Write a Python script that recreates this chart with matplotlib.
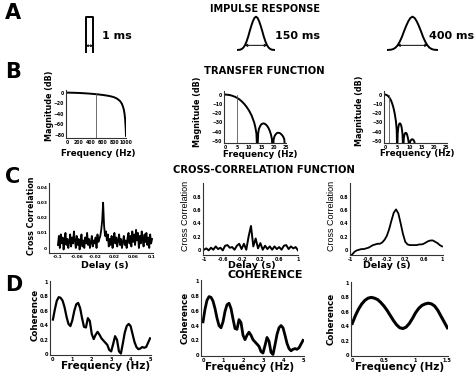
import matplotlib
matplotlib.use("Agg")
import matplotlib.pyplot as plt
import numpy as np

plt.rcParams['font.family'] = ['DejaVu Sans']
plt.rcParams['font.weight'] = 'bold'

W, H = 474, 372

# ---------------- data ----------------
# A: impulse response shapes
pulse_t = [-0.5, -0.5, 0.5, 0.5]
pulse_v = [-0.08, 1.0, 1.0, -0.08]
bell_t = [-1.2, -1.0, -0.9, -0.8, -0.7, -0.6, -0.5, -0.4, -0.3, -0.2, -0.1, 0.0,
          0.1, 0.2, 0.3, 0.4, 0.5, 0.6, 0.7, 0.8, 0.9, 1.0, 1.2]
bell_v = [0.0, 0.01, 0.03, 0.07, 0.14, 0.25, 0.39, 0.56, 0.72, 0.86, 0.96, 1.0,
          0.96, 0.86, 0.72, 0.56, 0.39, 0.25, 0.14, 0.07, 0.03, 0.01, 0.0]
widths = ["1 ms", "150 ms", "400 ms"]

# B: transfer functions (dB)
b1_f = [0, 100, 200, 300, 400, 500, 600, 700, 750, 800, 850, 900, 930, 950, 965,
        975, 985, 992, 997, 1000]
b1_m = [0, -0.2, -0.6, -1.2, -2.0, -3.0, -4.3, -6.0, -7.2, -8.8, -11.5, -16, -21,
        -27, -33, -40, -50, -62, -72, -82]
b2_f = [0, 1, 2, 3, 4, 5, 6, 7, 8, 9, 10, 11, 12, 12.5, 13, 13.3,
        13.4, 13.7, 14, 14.5, 15, 15.5, 16, 16.5, 17, 17.5, 18, 18.5, 19, 19.4, 19.6,
        19.8, 20.1, 20.5, 21, 21.5, 22, 22.5, 23, 23.5, 24, 24.5, 24.8]
b2_m = [0, -0.2, -0.6, -1.3, -2.3, -3.6, -5.3, -7.5, -10.2, -13.5, -17.5, -22.5, -29.5,
        -34.5, -42, -60,
        -60, -42, -37, -34, -32, -31.2, -31, -31.5, -32.5, -34, -36, -39, -43, -48, -60,
        -60, -48, -44.5, -42.5, -41.3, -41, -41.2, -42, -43.3, -45, -48, -60]
b3_f = [0, 0.5, 1, 1.5, 2, 2.5, 3, 3.5, 4, 4.5, 4.8, 5.0,
        5.05, 5.2, 5.4, 5.6, 5.8, 6.0, 6.2, 6.4, 6.6, 6.8, 7.0, 7.2, 7.4,
        7.55, 7.7, 7.9, 8.1, 8.3, 8.5, 8.7, 8.9, 9.1, 9.3, 9.5, 9.7, 9.9,
        10.05, 10.3, 10.6, 10.9, 11.2, 11.5, 11.8, 12.1, 12.4]
b3_m = [0, -0.3, -1, -2.2, -4, -6.5, -10, -14.5, -20.5, -29, -38, -60,
        -60, -42, -36.5, -33.5, -31.8, -31, -31, -31.7, -33, -35, -38.5, -43, -60,
        -60, -47, -44, -42.3, -41.3, -41, -41.2, -42, -43.5, -45.5, -48, -51, -60,
        -60, -50.5, -49, -48.2, -48, -48.3, -49.3, -51, -60]
cutoffs = [500, 5, 1.5]

# C: cross-correlation functions
c1_lag = np.linspace(-0.1, 0.1, 101)
c1_val = np.array([2, 8, 0, 9, 3, 7, -1, 5, 10, 2,
                   6, 0, 4, 9, 1, 7, 3, 11, 5, 0,
                   8, 2, 6, -1, 4, 9, 1, 5, 0, 7,
                   3, 10, 2, 6, 0, 4, 8, 1, 5, 3,
                   7, 0, 9, 4, 6, 8, 12, 18, 30, 15,
                   8, 11, 5, 9, 1, 6, 2, 8, 0, 4,
                   10, 3, 7, 1, 5, 9, 2, 6, 0, 4,
                   8, 2, 5, 0, 7, 10, 3, 8, 1, 11,
                   4, 9, 2, 12, 5, 10, 0, 8, 3, 11,
                   6, 1, 9, 4, 10, 2, 7, 0, 9, 3, 6]) / 1000.0
c2_lag = np.linspace(-1, 1, 41)
c2_val = [0.00, 0.02, -0.01, 0.03, 0.00, 0.05, 0.01, 0.03, -0.01, 0.06,
          0.07, 0.03, 0.04, 0.00, 0.06, 0.09, 0.01, 0.09, 0.00, 0.20,
          0.36, 0.05, 0.17, 0.02, 0.10, 0.00, 0.06, 0.01, 0.05, 0.00,
          0.05, 0.01, 0.04, 0.00, 0.06, 0.07, 0.01, 0.05, 0.02, 0.04, -0.01]
c3_lag = np.linspace(-1, 1, 41)
c3_val = [-0.10, -0.07, -0.03, -0.01, 0.00, 0.01, 0.01, 0.02, 0.03, 0.05,
          0.07, 0.08, 0.09, 0.09, 0.11, 0.15, 0.21, 0.31, 0.44, 0.56,
          0.61, 0.55, 0.40, 0.24, 0.12, 0.08, 0.07, 0.07, 0.07, 0.07,
          0.08, 0.08, 0.09, 0.11, 0.13, 0.14, 0.14, 0.12, 0.10, 0.07, 0.05]

# D: coherence
d1_f = np.linspace(0, 5, 51)
d1_c = [0.48, 0.62, 0.74, 0.79, 0.78, 0.74, 0.65, 0.52, 0.42, 0.39,
        0.47, 0.60, 0.69, 0.71, 0.64, 0.50, 0.38, 0.37, 0.50, 0.46,
        0.28, 0.21, 0.27, 0.31, 0.27, 0.22, 0.19, 0.16, 0.13, 0.06,
        0.04, 0.14, 0.25, 0.20, 0.04, 0.01, 0.15, 0.30, 0.39, 0.42,
        0.39, 0.28, 0.17, 0.10, 0.07, 0.08, 0.10, 0.09, 0.10, 0.16, 0.22]
d2_f = np.linspace(0, 5, 51)
d2_c = [0.45, 0.62, 0.74, 0.79, 0.78, 0.73, 0.63, 0.50, 0.40, 0.37,
        0.45, 0.59, 0.68, 0.70, 0.63, 0.49, 0.36, 0.35, 0.48, 0.44,
        0.27, 0.21, 0.27, 0.31, 0.27, 0.21, 0.18, 0.15, 0.12, 0.05,
        0.03, 0.13, 0.24, 0.19, 0.04, 0.01, 0.14, 0.28, 0.37, 0.40,
        0.37, 0.27, 0.16, 0.09, 0.06, 0.08, 0.09, 0.08, 0.10, 0.15, 0.20]
d3_f = np.linspace(0, 1.5, 31)
d3_c = [0.44, 0.55, 0.64, 0.71, 0.76, 0.79, 0.80, 0.79, 0.77, 0.73,
        0.68, 0.62, 0.55, 0.48, 0.42, 0.38, 0.37, 0.39, 0.44, 0.51,
        0.59, 0.65, 0.69, 0.71, 0.72, 0.71, 0.68, 0.62, 0.54, 0.46, 0.38]

# ---------------- figure ----------------
fig = plt.figure(figsize=(W / 100, H / 100), dpi=100)


def box(x0, y0, x1, y1):
    return fig.add_axes([x0 / W, 1 - y1 / H, (x1 - x0) / W, (y1 - y0) / H])


def ftext(x, y, s, **kw):
    fig.text(x / W, 1 - y / H, s, **kw)


def style(ax, size=4.0):
    for s in ['top', 'right']:
        ax.spines[s].set_visible(False)
    for s in ['left', 'bottom']:
        ax.spines[s].set_linewidth(0.8)
        ax.spines[s].set_color('#333333')
    ax.tick_params(length=0, pad=1.2, labelsize=size)
    for lab in ax.get_xticklabels() + ax.get_yticklabels():
        lab.set_fontweight('bold')


# panel letters
for letter, y in zip("ABCD", [13, 72, 177, 285]):
    ftext(5, y, letter, fontsize=15, fontweight='bold', ha='left', va='center')

# section titles
ftext(265, 9, "IMPULSE RESPONSE", fontsize=7, fontweight='bold', ha='center', va='center')
ftext(264, 71, "TRANSFER FUNCTION", fontsize=7.2, fontweight='bold', ha='center', va='center')
ftext(264, 170, "CROSS-CORRELATION FUNCTION", fontsize=7.2, fontweight='bold', ha='center', va='center')
ftext(265, 275, "COHERENCE", fontsize=8, fontweight='bold', ha='center', va='center')

# ---- A ----
axp = box(82, 15, 97, 53)
axp.plot(pulse_t, pulse_v, color='black', lw=1.4)
axp.annotate('', xy=(0.5, 0.12), xytext=(-0.5, 0.12),
             arrowprops=dict(arrowstyle='<->', lw=0.7, mutation_scale=3, shrinkA=0, shrinkB=0))
axp.set_xlim(-1, 1)
axp.set_ylim(-0.1, 1.05)
axp.axis('off')

for (x0, x1) in [(237, 275), (387, 438)]:
    axb = box(x0, 15, x1, 51)
    axb.plot(bell_t, bell_v, color='black', lw=1.4)
    axb.annotate('', xy=(0.72, 0.14), xytext=(-0.72, 0.14),
                 arrowprops=dict(arrowstyle='<->', lw=0.7, mutation_scale=4, shrinkA=0, shrinkB=0))
    axb.set_xlim(-1.2, 1.2)
    axb.set_ylim(-0.03, 1.05)
    axb.axis('off')

for (x, s) in zip([102, 275, 429], widths):
    ftext(x, 36, s, fontsize=8, fontweight='bold', ha='left', va='center')

# ---- B ----
b_specs = [
    ((66, 90, 126, 138), b1_f, b1_m, (-15, 1000), (-86, 5), [0, 200, 400, 600, 800, 1000],
     [0, -20, -40, -60, -80], (49, 106), (98, 153)),
    ((224, 91, 286, 143), b2_f, b2_m, (-0.4, 25.2), (-52, 3.8), [0, 5, 10, 15, 20, 25],
     [0, -10, -20, -30, -40, -50], (198, 112), (260, 154)),
    ((384, 91, 447, 143), b3_f, b3_m, (-0.4, 25.4), (-52, 3.8), [0, 5, 10, 15, 20, 25],
     [0, -10, -20, -30, -40, -50], (360, 111), (417, 153)),
]
for (bx, f, m, xl, yl, xt, yt, ylp, xlp), fc in zip(b_specs, cutoffs):
    ax = box(*bx)
    ax.plot(f, m, color='black', lw=1.4)
    ax.set_xlim(*xl)
    ax.set_ylim(*yl)
    ax.axvline(fc, ymin=0, ymax=(0 - yl[0]) / (yl[1] - yl[0]), color='#555555', lw=0.6)
    ax.set_xticks(xt)
    ax.set_yticks(yt)
    style(ax, 3.3)
    ftext(ylp[0], ylp[1], "Magnitude (dB)", fontsize=5.8, fontweight='bold', rotation=90,
          ha='center', va='center')
    ftext(xlp[0], xlp[1], "Frequency (Hz)", fontsize=6.3, fontweight='bold', ha='center', va='center')

# ---- C ----
ax = box(49, 183, 153, 253)
ax.plot(c1_lag, c1_val, color='black', lw=1.3)
ax.set_xlim(-0.119, 0.102)
ax.set_ylim(-0.0033, 0.043)
ax.set_xticks([-0.1, -0.06, -0.02, 0.02, 0.06, 0.1])
ax.set_xticklabels(["-0.1", "-0.06", "-0.02", "0.02", "0.06", "0.1"])
ax.set_yticks([0, 0.01, 0.02, 0.03, 0.04])
ax.set_yticklabels(["0", "0.01", "0.02", "0.03", "0.04"])
style(ax, 3.2)
ftext(32, 216, "Cross Correlation", fontsize=5.8, fontweight='bold', rotation=90, ha='center', va='center')
ftext(105, 265.5, "Delay (s)", fontsize=6.8, fontweight='bold', ha='center', va='center')

for (bx, lag, val, xl, ylp, xlp, lw) in [
        ((203, 183, 298, 255), c2_lag, c2_val, (-1.02, 1.0), (186, 216), (252, 265.5), 1.4),
        ((350, 183, 443, 255), c3_lag, c3_val, (-1.0, 1.02), (331, 216), (387, 265.5), 1.3)]:
    ax = box(*bx)
    ax.plot(lag, val, color='black', lw=lw)
    ax.set_xlim(*xl)
    ax.set_ylim(-0.08, 1.01)
    ax.set_xticks([-1, -0.6, -0.2, 0.2, 0.6, 1])
    ax.set_xticklabels(["-1", "-0.6", "-0.2", "0.2", "0.6", "1"])
    ax.set_yticks([0, 0.2, 0.4, 0.6, 0.8])
    ax.set_yticklabels(["0", "0.2", "0.4", "0.6", "0.8"])
    style(ax, 3.4)
    ftext(ylp[0], ylp[1], "Cross Correlation", fontsize=6.5, fontweight='normal',
          family='Liberation Sans', rotation=90, ha='center', va='center')
    ftext(xlp[0], xlp[1], "Delay (s)", fontsize=6.8, fontweight='bold', ha='center', va='center')

# ---- D ----
d_specs = [
    ((50, 280.5, 151, 355), d1_f, d1_c, (-0.15, 5.05), [0, 1, 2, 3, 4, 5],
     ["0", "1", "2", "3", "4", "5"], 1.6, (35, 315), (106, 366)),
    ((201, 279.5, 304, 356), d2_f, d2_c, (-0.1, 5.05), [0, 1, 2, 3, 4, 5],
     ["0", "1", "2", "3", "4", "5"], 2.0, (185.5, 318), (250, 367)),
    ((351, 281.5, 448, 356), d3_f, d3_c, (-0.02, 1.51), [0, 0.5, 1, 1.5],
     ["0", "0.5", "1", "1.5"], 2.2, (331, 319), (400, 367)),
]
for (bx, f, c, xl, xt, xtl, lw, ylp, xlp) in d_specs:
    ax = box(*bx)
    ax.plot(f, c, color='black', lw=lw)
    ax.set_xlim(*xl)
    ax.set_ylim(-0.01, 1.02)
    ax.set_xticks(xt)
    ax.set_xticklabels(xtl)
    ax.set_yticks([0, 0.2, 0.4, 0.6, 0.8, 1])
    ax.set_yticklabels(["0", "0.2", "0.4", "0.6", "0.8", "1"])
    style(ax, 3.6)
    ftext(ylp[0], ylp[1], "Coherence", fontsize=6.3, fontweight='bold', rotation=90,
          ha='center', va='center')
    ftext(xlp[0], xlp[1], "Frequency (Hz)", fontsize=7.5, fontweight='bold', ha='center', va='center')

fig.savefig("out.png", dpi=100)
